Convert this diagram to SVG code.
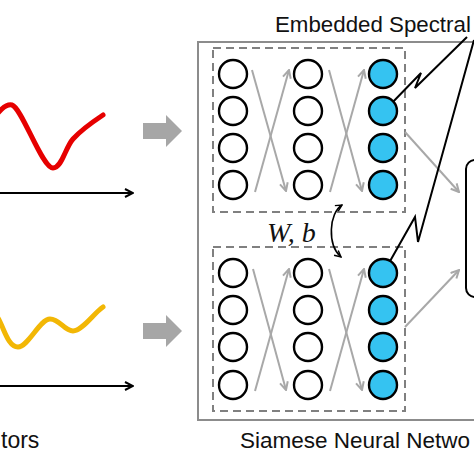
<svg xmlns="http://www.w3.org/2000/svg" width="474" height="474" viewBox="0 0 474 474">
<style>
.txt{font-family:"Liberation Sans","DejaVu Sans",sans-serif;fill:#111}
.c{fill:#ffffff;stroke:#000;stroke-width:2.4}
.cb{fill:#35c3f1;stroke:#000;stroke-width:2.4}
.dash{fill:none;stroke:#808080;stroke-width:2;stroke-dasharray:8 5}
.ga{fill:none;stroke:#a8a8a8;stroke-width:2;marker-end:url(#gh)}
.bl{fill:none;stroke:#000;stroke-width:2}
</style>
<defs>
<marker id="gh" viewBox="0 0 10 10" refX="9" refY="5" markerWidth="10" markerHeight="10" markerUnits="userSpaceOnUse" orient="auto">
<path d="M1,1 L9,5 L1,9" fill="none" stroke="#a8a8a8" stroke-width="2"/>
</marker>
<marker id="bh" viewBox="0 0 10 10" refX="9" refY="5" markerWidth="10" markerHeight="10" markerUnits="userSpaceOnUse" orient="auto">
<path d="M1,1 L9,5 L1,9" fill="none" stroke="#000" stroke-width="2"/>
</marker>
<marker id="sh" viewBox="0 0 10 10" refX="9" refY="5" markerWidth="8" markerHeight="8" markerUnits="userSpaceOnUse" orient="auto-start-reverse">
<path d="M1,1 L9,5 L1,9" fill="none" stroke="#000" stroke-width="1.8"/>
</marker>
</defs>
<rect width="474" height="474" fill="#fff"/>

<!-- signals -->
<g id="signal-top">
<path d="M-2,113 C4,106 8,104 12,105 C22,108 42,168 53,168 C62,168 65,148 73,139 C82,129 94,121 103,115" fill="none" stroke="#e60000" stroke-width="5" stroke-linecap="round"/>
<path d="M0,193 L133,193" fill="none" stroke="#000" stroke-width="2" marker-end="url(#bh)"/>
</g>
<g id="signal-bottom">
<path d="M-2,318 C4,328 8,347 18,347 C28,347 40,319 50,319 C60,319 64,331 73,331 C82,331 94,313 103,307" fill="none" stroke="#f2b705" stroke-width="5" stroke-linecap="round"/>
<path d="M0,386 L133,386" fill="none" stroke="#000" stroke-width="2" marker-end="url(#bh)"/>
</g>
<g id="block-arrows" fill="#a6a6a6">
<path d="M143,123 L166,123 L166,115 L182,131 L166,147 L166,139 L143,139 Z"/>
<path d="M143,323 L166,323 L166,315 L182,331 L166,347 L166,339 L143,339 Z"/>
</g>

<!-- network frame -->
<g id="siamese-frame">
<rect x="198" y="42" width="290" height="378" fill="none" stroke="#8c8c8c" stroke-width="2"/>
</g>
<g id="net-top">
<rect class="dash" x="213" y="48" width="192" height="164"/>
</g>
<g id="net-bottom">
<rect class="dash" x="213" y="247" width="192" height="164"/>
</g>
<g id="output-box">
<rect x="466" y="160" width="40" height="137" rx="9" fill="none" stroke="#000" stroke-width="2"/>
</g>

<!-- connectors -->
<g id="connectors">
<path class="ga" d="M252,70 L286,191"/>
<path class="ga" d="M255,192 L289,70"/>
<path class="ga" d="M329,70 L362,191"/>
<path class="ga" d="M330,192 L364,70"/>
<path class="ga" d="M253,269 L286,390"/>
<path class="ga" d="M255,391 L289,269"/>
<path class="ga" d="M329,269 L362,390"/>
<path class="ga" d="M330,391 L364,269"/>
<path class="ga" d="M405,132 L459,192"/>
<path class="ga" d="M405,327 L459,270"/>
<path d="M342,205 C329,213 327,245 341,257" fill="none" stroke="#000" stroke-width="1.6" marker-start="url(#sh)" marker-end="url(#sh)"/>
<path class="bl" d="M467,37 L415,88 L421,73 L388,107"/>
<path class="bl" d="M474,40 L418,242 L415,217 L385,270"/>
</g>

<!-- neurons top -->
<g id="t-l1-1"><circle class="c" cx="233" cy="74" r="14"/></g>
<g id="t-l1-2"><circle class="c" cx="233" cy="111" r="14"/></g>
<g id="t-l1-3"><circle class="c" cx="233" cy="148" r="14"/></g>
<g id="t-l1-4"><circle class="c" cx="233" cy="185" r="14"/></g>
<g id="t-l2-1"><circle class="c" cx="308" cy="74" r="14"/></g>
<g id="t-l2-2"><circle class="c" cx="308" cy="111" r="14"/></g>
<g id="t-l2-3"><circle class="c" cx="308" cy="148" r="14"/></g>
<g id="t-l2-4"><circle class="c" cx="308" cy="185" r="14"/></g>
<g id="t-l3-1"><circle class="cb" cx="383" cy="74" r="14"/></g>
<g id="t-l3-2"><circle class="cb" cx="383" cy="111" r="14"/></g>
<g id="t-l3-3"><circle class="cb" cx="383" cy="148" r="14"/></g>
<g id="t-l3-4"><circle class="cb" cx="383" cy="185" r="14"/></g>
<!-- neurons bottom -->
<g id="b-l1-1"><circle class="c" cx="233" cy="273" r="14"/></g>
<g id="b-l1-2"><circle class="c" cx="233" cy="310" r="14"/></g>
<g id="b-l1-3"><circle class="c" cx="233" cy="347" r="14"/></g>
<g id="b-l1-4"><circle class="c" cx="233" cy="385" r="14"/></g>
<g id="b-l2-1"><circle class="c" cx="308" cy="273" r="14"/></g>
<g id="b-l2-2"><circle class="c" cx="308" cy="310" r="14"/></g>
<g id="b-l2-3"><circle class="c" cx="308" cy="347" r="14"/></g>
<g id="b-l2-4"><circle class="c" cx="308" cy="385" r="14"/></g>
<g id="b-l3-1"><circle class="cb" cx="383" cy="273" r="14"/></g>
<g id="b-l3-2"><circle class="cb" cx="383" cy="310" r="14"/></g>
<g id="b-l3-3"><circle class="cb" cx="383" cy="347" r="14"/></g>
<g id="b-l3-4"><circle class="cb" cx="383" cy="385" r="14"/></g>

<!-- labels -->
<g id="labels">
<text class="txt" x="275" y="32" font-size="22.3">Embedded Spectral</text>
<text x="267" y="242" font-size="28" font-style="italic" font-family="'Liberation Serif','DejaVu Serif',serif" fill="#111">W, b</text>
<text class="txt" x="1" y="448" font-size="23">tors</text>
<text class="txt" x="240" y="448" font-size="22.5">Siamese Neural Netwo</text>
</g>
</svg>
